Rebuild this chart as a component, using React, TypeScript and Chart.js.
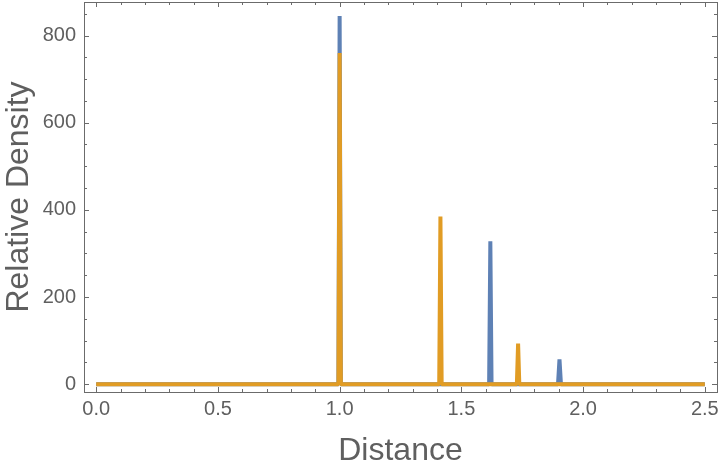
import { useEffect, useRef } from 'react';
import { Chart, registerables } from 'chart.js';

Chart.register(...registerables);

// blue curve: distance / relative density
const blueX = [0, 0.995, 1.0, 1.005, 1.614, 1.619, 1.624, 1.897, 1.903, 1.909, 2.5];
const blueY = [0, 0, 845, 0, 0, 328, 0, 0, 57, 0, 0];

// orange curve
const orangeX = [0, 0.995, 1.0, 1.005, 1.409, 1.414, 1.419, 1.728, 1.733, 1.738, 2.5];
const orangeY = [0, 0, 760, 0, 0, 385, 0, 0, 93, 0, 0];

const xMajor = [0, 0.5, 1.0, 1.5, 2.0, 2.5];
const xMinor = [0.1, 0.2, 0.3, 0.4, 0.6, 0.7, 0.8, 0.9, 1.1, 1.2, 1.3, 1.4, 1.6, 1.7, 1.8, 1.9, 2.1, 2.2, 2.3, 2.4];
const yMajor = [0, 200, 400, 600, 800];
const yMinor = [50, 100, 150, 250, 300, 350, 450, 500, 550, 650, 700, 750, 850];

const GRAY = '#5f5f5f';
const FONT = '"Liberation Sans", Arial, sans-serif';

// frame with inward ticks on all four sides, like Mathematica
const framePlugin = {
  id: 'frame',
  afterDatasetsDraw(chart: Chart) {
    const { ctx, chartArea } = chart;
    const { left, right, top, bottom } = chartArea;
    const xs = chart.scales.x;
    const ys = chart.scales.y;
    ctx.save();
    ctx.strokeStyle = '#6b6b6b';
    ctx.lineWidth = 1;
    ctx.beginPath();
    const tickX = (v: number, len: number) => {
      const p = Math.round(xs.getPixelForValue(v)) + 0.5;
      ctx.moveTo(p, bottom);
      ctx.lineTo(p, bottom - len);
      ctx.moveTo(p, top);
      ctx.lineTo(p, top + len);
    };
    const tickY = (v: number, len: number) => {
      const p = Math.round(ys.getPixelForValue(v)) + 0.5;
      ctx.moveTo(left, p);
      ctx.lineTo(left + len, p);
      ctx.moveTo(right, p);
      ctx.lineTo(right - len, p);
    };
    xMajor.forEach(v => tickX(v, 5));
    xMinor.forEach(v => tickX(v, 3));
    yMajor.forEach(v => tickY(v, 5));
    yMinor.forEach(v => tickY(v, 3));
    ctx.stroke();
    ctx.strokeRect(Math.round(left) + 0.5, Math.round(top) + 0.5, Math.round(right - left), Math.round(bottom - top));
    ctx.restore();
  },
};

function App() {
  const chartRef = useRef<HTMLCanvasElement>(null);
  const chartInstance = useRef<Chart | null>(null);

  useEffect(() => {
    if (!chartRef.current) return;
    if (chartInstance.current) chartInstance.current.destroy();
    const ctx = chartRef.current.getContext('2d');
    if (!ctx) return;

    const toPoints = (xs: number[], ys: number[]) => xs.map((x, i) => ({ x, y: ys[i] }));

    chartInstance.current = new Chart(ctx, {
      type: 'line',
      data: {
        datasets: [
          {
            label: 'blue',
            data: toPoints(blueX, blueY),
            borderColor: '#5e81b5',
            borderWidth: 4,
            borderJoinStyle: 'bevel',
            pointRadius: 0,
            tension: 0,
            fill: false,
            order: 2,
          },
          {
            label: 'orange',
            data: toPoints(orangeX, orangeY),
            borderColor: '#e19c24',
            borderWidth: 4,
            borderJoinStyle: 'bevel',
            pointRadius: 0,
            tension: 0,
            fill: false,
            order: 1,
          },
        ],
      },
      options: {
        animation: false,
        responsive: true,
        maintainAspectRatio: false,
        layout: { padding: { top: 2, right: 3, left: 0, bottom: 0 } },
        plugins: {
          legend: { display: false },
          tooltip: { enabled: false },
        },
        scales: {
          x: {
            type: 'linear',
            min: -0.05,
            max: 2.55,
            grid: { display: false, tickLength: 5 },
            border: { display: false },
            afterBuildTicks: (scale: any) => {
              scale.ticks = xMajor.map(v => ({ value: v }));
            },
            afterFit: (scale: any) => {
              scale.height = 76;
              scale.paddingLeft = 0;
              scale.paddingRight = 0;
            },
            ticks: {
              color: GRAY,
              padding: 0,
              maxRotation: 0,
              autoSkip: false,
              font: { family: FONT, size: 20 },
              callback: (value: any) => Number(value).toFixed(1),
            },
            title: {
              display: true,
              text: 'Distance',
              color: GRAY,
              padding: { top: 0, bottom: -2 },
              font: { family: FONT, size: 32 },
            },
          },
          y: {
            type: 'linear',
            min: -18,
            max: 877,
            grid: { display: false, tickLength: 8 },
            border: { display: false },
            afterBuildTicks: (scale: any) => {
              scale.ticks = yMajor.map(v => ({ value: v }));
            },
            afterFit: (scale: any) => {
              scale.width = 84;
              scale.paddingTop = 0;
              scale.paddingBottom = 0;
            },
            ticks: {
              color: GRAY,
              padding: 0,
              autoSkip: false,
              font: { family: FONT, size: 20 },
              callback: (value: any) => String(value),
            },
            title: {
              display: true,
              text: 'Relative Density',
              color: GRAY,
              padding: 0,
              font: { family: FONT, size: 32 },
            },
          },
        },
      },
      plugins: [framePlugin],
    });

    return () => {
      if (chartInstance.current) {
        chartInstance.current.destroy();
        chartInstance.current = null;
      }
    };
  }, []);

  return (
    <div style={{ position: 'fixed', left: 0, top: 0, width: 720, height: 468, background: '#fff' }}>
      <canvas ref={chartRef} />
    </div>
  );
}

export default App;
